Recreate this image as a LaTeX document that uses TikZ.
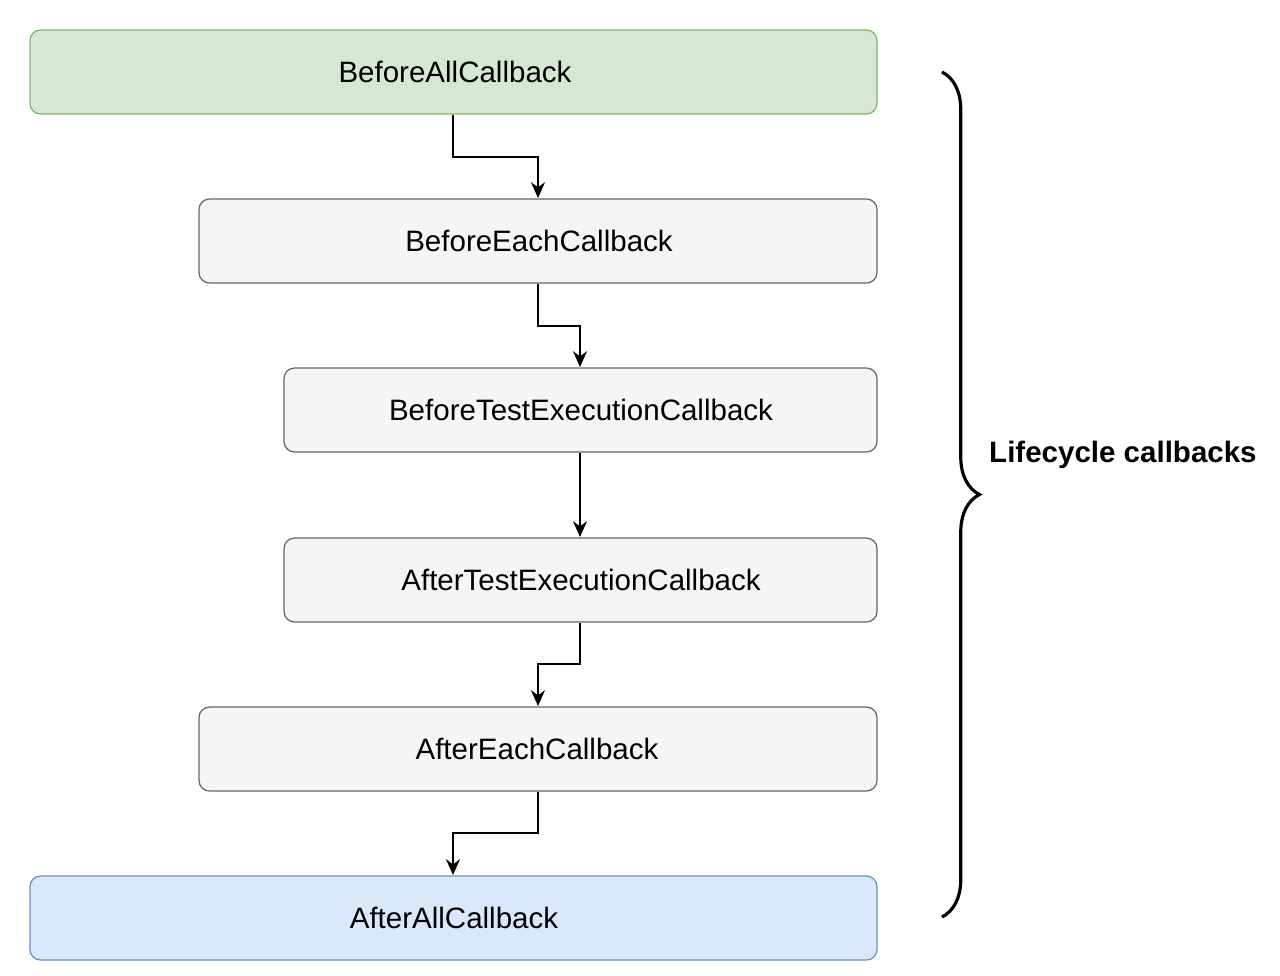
\documentclass[tikz,border=0pt]{standalone}
\usepackage{fontspec}
\setmainfont{Liberation Sans}
\usetikzlibrary{arrows.meta,decorations.pathreplacing}
\definecolor{gfill}{HTML}{D5E8D4}\definecolor{gdraw}{HTML}{82B366}
\definecolor{bfill}{HTML}{DAE8FC}\definecolor{bdraw}{HTML}{6C8EBF}
\definecolor{nfill}{HTML}{F5F5F5}\definecolor{ndraw}{HTML}{666666}
\begin{document}
\begin{tikzpicture}[x=0.02cm,y=-0.02cm,
  box/.style={draw=ndraw,fill=nfill,rounded corners=6pt,line width=0.7pt},
  lbl/.style={font=\fontsize{16.8}{19}\selectfont},
  arr/.style={-{Stealth[length=9pt,width=8pt]},line width=0.9pt}]
\useasboundingbox (0,0) rectangle (1280,975);
\fill[white] (0,0) rectangle (1280,975);
\draw[box,fill=gfill,draw=gdraw] (30,30) rectangle (877,114);
\node[lbl] (A) at (455,72) {BeforeAllCallback};
\draw[box] (199,199) rectangle (877,283);
\node[lbl] (B) at (539,241) {BeforeEachCallback};
\draw[box] (284,368) rectangle (877,452);
\node[lbl] (C) at (581,410) {BeforeTestExecutionCallback};
\draw[box] (284,538) rectangle (877,622);
\node[lbl] (D) at (581,580) {AfterTestExecutionCallback};
\draw[box] (199,707) rectangle (877,791);
\node[lbl] (E) at (537,749) {AfterEachCallback};
\draw[box,fill=bfill,draw=bdraw] (30,876) rectangle (877,960);
\node[lbl] (F) at (454,918) {AfterAllCallback};
\coordinate (a1) at (453,115); \coordinate (b0) at (538,198);
\coordinate (b1) at (538,284); \coordinate (c0) at (580,367);
\coordinate (c1) at (580,453); \coordinate (d0) at (580,537);
\coordinate (d1) at (580,623); \coordinate (e0) at (538,706);
\coordinate (e1) at (538,792); \coordinate (f0) at (453,875);
\coordinate (m1) at (496,157); \coordinate (m2) at (559,326);
\coordinate (m4) at (559,664); \coordinate (m5) at (496,833);
\draw[arr] (a1) |- (m1) -| (b0);
\draw[arr] (b1) |- (m2) -| (c0);
\draw[arr] (c1) -- (d0);
\draw[arr] (d1) |- (m4) -| (e0);
\draw[arr] (e1) |- (m5) -| (f0);
\coordinate (t) at (942,72); \coordinate (u) at (942,917);
\draw[line width=1.8pt,decorate,decoration={brace,amplitude=0.75cm}] (t) -- (u);
\node[anchor=west,font=\bfseries\fontsize{16.8}{19}\selectfont] (L) at (983,455) {Lifecycle callbacks};
\end{tikzpicture}
\end{document}
